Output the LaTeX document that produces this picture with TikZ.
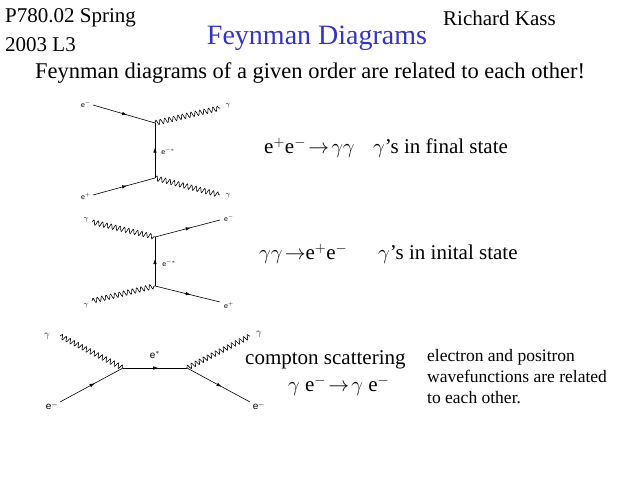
\documentclass[tikz,border=0pt]{standalone}
\usepackage{fontspec}
\setmainfont{Liberation Serif}
\newfontfamily\sans{Liberation Sans}
\usetikzlibrary{decorations.pathmorphing,decorations.markings,arrows.meta}
\begin{document}
\begin{tikzpicture}[x=1pt,y=-1pt,
  fermion/.style={semithick,postaction={decorate},decoration={markings,mark=at position 0.55 with {\arrow{Latex[length=5pt,width=3.5pt]}}}},
  photon/.style={semithick,decorate,decoration={snake,segment length=4.5pt,amplitude=2.5pt}},
  lab/.style={font=\sans\fontsize{7}{8}\selectfont,inner sep=0pt},
  labb/.style={font=\sans\fontsize{10}{11}\selectfont,inner sep=0pt},
  big/.style={font=\fontsize{21}{23}\selectfont,inner sep=0pt,anchor=west}]
\useasboundingbox (0,0) rectangle (638,478);
\node[big] (t1) at (5,18) {P780.02 Spring};
\node[big] (t2) at (5,45) {2003 L3};
\node[big] (t3) at (443,18) {Richard Kass};
\node[font=\fontsize{28}{30}\selectfont,text={rgb,255:red,51;green,51;blue,204},inner sep=0pt] (title) at (317,38) {Feynman Diagrams};
\node[big,font=\fontsize{22.5}{24}\selectfont] (sub) at (35,73) {Feynman diagrams of a given order are related to each other!};
% diagram 1
\coordinate (a1) at (93,105); \coordinate (v1) at (155,123); \coordinate (g1) at (220,108);
\coordinate (a2) at (93,195); \coordinate (v2) at (155,178); \coordinate (g2) at (220,195);
\draw[fermion] (a1) -- (v1);
\draw[photon] (v1) -- (g1);
\draw[fermion] (v2) -- (v1);
\draw[fermion] (a2) -- (v2);
\draw[photon] (v2) -- (g2);
\node[lab] (l1) at (86,104) {e$^-$};
\node[lab] (l2) at (228,106) {$\gamma$};
\node[lab] (l3) at (168,151) {e$^{-*}$};
\node[lab] (l4) at (86,196) {e$^+$};
\node[lab] (l5) at (228,196) {$\gamma$};
% diagram 2
\coordinate (b1) at (92,222); \coordinate (w1) at (155,237); \coordinate (c1) at (220,220);
\coordinate (b2) at (92,301); \coordinate (w2) at (155,286); \coordinate (c2) at (220,302);
\draw[photon] (b1) -- (w1);
\draw[fermion] (w1) -- (c1);
\draw[fermion] (w2) -- (w1);
\draw[photon] (b2) -- (w2);
\draw[fermion] (w2) -- (c2);
\node[lab] (m1) at (86,220) {$\gamma$};
\node[lab] (m2) at (229,218) {e$^-$};
\node[lab] (m3) at (169,263) {e$^{-*}$};
\node[lab] (m4) at (86,306) {$\gamma$};
\node[lab] (m5) at (229,305) {e$^+$};
% diagram 3
\coordinate (p1) at (60,336); \coordinate (q1) at (60,402); \coordinate (u1) at (123,368);
\coordinate (u2) at (187,368); \coordinate (p2) at (250,336); \coordinate (q2) at (250,402);
\draw[photon] (p1) -- (u1);
\draw[fermion] (q1) -- (u1);
\draw[fermion] (u1) -- (u2);
\draw[photon] (u2) -- (p2);
\draw[fermion] (u2) -- (q2);
\node[labb] (n1) at (47,336) {$\gamma$};
\node[labb] (n2) at (52,406) {e$^-$};
\node[labb] (n3) at (155,355) {e$^*$};
\node[labb] (n4) at (259,334) {$\gamma$};
\node[labb] (n5) at (259,406) {e$^-$};
% texts
\node[big] (r1) at (264,148) {e$^+$e$^-\!\rightarrow\!\gamma\gamma$};
\node[big] (r2) at (373,148) {$\gamma$'s in final state};
\node[big] (r3) at (259,254) {$\gamma\gamma\!\rightarrow$e$^+$e$^-$};
\node[big] (r4) at (378,254) {$\gamma$'s in inital state};
\node[big] (r5) at (245,360) {compton scattering};
\node[big] (r6) at (288,386) {$\gamma$ e$^-\!\rightarrow\!\gamma$ e$^-$};
\node[font=\fontsize{17.5}{21}\selectfont,inner sep=0pt,anchor=north west,align=left] (r7) at (427,349) {electron and positron\\wavefunctions are related\\to each other.};
\end{tikzpicture}
\end{document}
